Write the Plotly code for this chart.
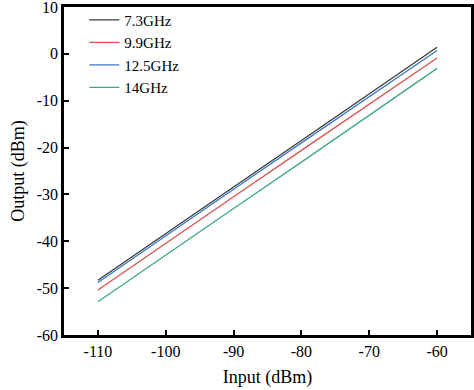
import plotly.graph_objects as go

input_dbm = [-110, -100, -90, -80, -70, -60]
out_7_3 = [-48.3, -38.3, -28.4, -18.5, -8.5, 1.4]
out_9_9 = [-50.4, -40.4, -30.5, -20.6, -10.7, -0.9]
out_12_5 = [-48.8, -38.8, -28.9, -19.0, -9.1, 0.7]
out_14 = [-52.9, -42.9, -33.0, -23.1, -13.1, -3.1]

series = [
    ("7.3GHz", out_7_3, "#3a3a3a"),
    ("9.9GHz", out_9_9, "#d9534f"),
    ("12.5GHz", out_12_5, "#3b78c3"),
    ("14GHz", out_14, "#3fa87e"),
]

x_ticks = [-110, -100, -90, -80, -70, -60]
x_labels = ["-110", "-100", "-90", "-80", "-70", "-60"]
y_ticks = [10, 0, -10, -20, -30, -40, -50, -60]
y_labels = ["10", "0", "-10", "-20", "-30", "-40", "-50", "-60"]

fig = go.Figure()
for name, vals, color in series:
    fig.add_trace(go.Scatter(x=input_dbm, y=vals, mode="lines", name=name,
                             line=dict(color=color, width=1.3)))

font = dict(family="Liberation Serif, Times New Roman, serif", size=16, color="black")
fig.update_layout(
    width=474, height=390,
    margin=dict(l=64, r=3, t=7, b=55),
    paper_bgcolor="white", plot_bgcolor="white",
    font=font,
    showlegend=True,
    legend=dict(x=0.05, y=1.01, xanchor="left", yanchor="top",
                bgcolor="rgba(0,0,0,0)", font=dict(size=15),
                tracegroupgap=0, itemwidth=30),
    xaxis=dict(range=[-115, -55], tickvals=x_ticks, ticktext=x_labels,
               ticks="inside", ticklen=5, automargin=False,
               tickwidth=2, tickcolor="black", showline=True, linewidth=2.5,
               linecolor="black", mirror=True, showgrid=False, zeroline=False,
               title=dict(text="Input (dBm)", standoff=12, font=dict(size=18))),
    yaxis=dict(range=[-60, 10.001], tickvals=y_ticks, ticktext=y_labels,
               ticks="inside", ticklen=5, automargin=False,
               ticklabeloverflow="allow",
               tickwidth=2, tickcolor="black", showline=True, linewidth=2.5,
               linecolor="black", mirror=True, showgrid=False, zeroline=False,
               title=dict(text="Output (dBm)", standoff=8, font=dict(size=18))),
)

fig.write_html("out.html", config={"displayModeBar": False},
               post_script="document.body.style.margin='0';document.body.style.overflow='hidden';")
